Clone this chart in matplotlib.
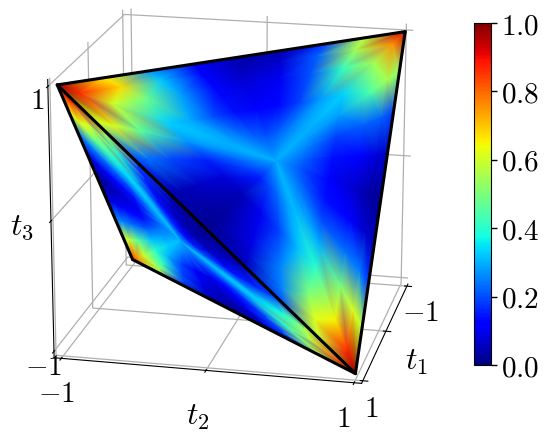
import numpy as np
import matplotlib
matplotlib.use("Agg")
import matplotlib.pyplot as plt
from matplotlib.tri import Triangulation
from mpl_toolkits.mplot3d import proj3d

plt.rcParams['mathtext.fontset'] = 'cm'
plt.rcParams['font.family'] = 'serif'
plt.rcParams['font.serif'] = ['cmr10', 'DejaVu Serif']
plt.rcParams['axes.formatter.use_mathtext'] = True

# tetrahedron corners (t1, t2, t3)
corner_a = [1, -1, 1]
corner_b = [-1, 1, 1]
corner_c = [1, 1, -1]
corner_d = [-1, -1, -1]

# values read on the faces: one row per ring around the face centre, outer ring last,
# 24 spokes per ring, first corner at spoke 0, second at 8, third at 16
ring_fracs = [0.25, 0.5, 0.75, 0.9, 1.0]

center_abc = 0.30
face_abc = [
    [.30, .28, .25, .22, .20, .22, .25, .28, .30, .28, .25, .22, .20, .22, .25, .28, .31, .28, .23, .19, .15, .19, .23, .28],
    [.33, .29, .20, .14, .11, .13, .19, .28, .33, .28, .19, .14, .11, .14, .20, .30, .40, .31, .19, .10, .05, .08, .16, .27],
    [.60, .48, .28, .13, .08, .10, .21, .42, .55, .44, .22, .11, .07, .11, .24, .50, .65, .50, .25, .09, .03, .06, .20, .46],
    [.87, .68, .32, .12, .05, .07, .22, .55, .76, .55, .22, .08, .03, .07, .25, .62, .88, .62, .25, .07, .02, .05, .24, .62],
    [.98, .66, .27, .10, .04, .05, .18, .58, .92, .52, .18, .06, .02, .05, .18, .58, .98, .58, .20, .05, .02, .04, .20, .60],
]
center_adc = 0.31
face_adc = [
    [.32, .30, .27, .25, .23, .25, .27, .30, .33, .30, .26, .23, .20, .22, .25, .29, .32, .27, .21, .16, .13, .16, .21, .27],
    [.37, .31, .21, .14, .10, .14, .23, .32, .40, .30, .19, .12, .09, .12, .19, .29, .35, .25, .14, .07, .04, .07, .14, .26],
    [.62, .46, .24, .11, .06, .11, .24, .46, .60, .42, .19, .09, .05, .09, .19, .40, .58, .38, .16, .06, .02, .05, .15, .38],
    [.87, .62, .26, .09, .03, .09, .26, .58, .76, .54, .20, .06, .03, .06, .20, .54, .84, .55, .20, .05, .02, .04, .18, .55],
    [.98, .66, .24, .08, .03, .07, .25, .62, .85, .55, .16, .05, .02, .05, .16, .55, .98, .55, .18, .05, .02, .04, .18, .58],
]
cbar_ticks = [0.0, 0.2, 0.4, 0.6, 0.8, 1.0]
axis_ticks = [-1, 0, 1]
axis_ticklabels = ['$-1$', '', '$1$']

fig = plt.figure(figsize=(5.5, 4.39), dpi=100)
ax = fig.add_axes([-0.045, 0.0, 0.93, 1.112], projection='3d')
ax.view_init(elev=18, azim=12.5)
ax.set_box_aspect((1, 1.08, 1))
ax.set_xlim(-1.05, 1.05)
ax.set_ylim(-1.05, 1.05)
ax.set_zlim(-1.05, 1.05)
ax.set_xticks(axis_ticks)
ax.set_yticks(axis_ticks)
ax.set_zticks(axis_ticks)
ax.set_xticklabels(axis_ticklabels, fontsize=21, va='top')
ax.set_yticklabels(axis_ticklabels, fontsize=21, va='top')
ax.set_zticklabels(axis_ticklabels, fontsize=21, va='top')
ax.tick_params(axis='x', pad=1)
ax.tick_params(axis='y', pad=3)
ax.tick_params(axis='z', pad=-3)
ax.get_xticklabels()[2].set_ha('right')
ax.get_yticklabels()[2].set_ha('right')
ax.xaxis.set_rotate_label(False)
ax.yaxis.set_rotate_label(False)
ax.zaxis.set_rotate_label(False)
ax.set_xlabel('$t_1$', fontsize=23, labelpad=-2, rotation=0)
ax.set_ylabel('$t_2$', fontsize=23, labelpad=1, rotation=0)
ax.set_zlabel('$t_3$', fontsize=23, labelpad=-7.5, rotation=0)
for a in [ax.xaxis, ax.yaxis, ax.zaxis]:
    a.set_pane_color((1, 1, 1, 1))
    a.pane.set_edgecolor((1, 1, 1, 0))
    a.line.set_color('black')
    a._axinfo['grid']['color'] = '#b0b0b0'
    a._axinfo['grid']['linewidth'] = 0.9

fig.canvas.draw()


def to_pixels(points):
    pts = np.array(points, dtype=float)
    px, py, _ = proj3d.proj_transform(pts[:, 0], pts[:, 1], pts[:, 2], ax.get_proj())
    return ax.transData.transform(np.column_stack([px, py]))


def face_mesh(p0, p1, p2, center_val, rows):
    # fan of spokes from the face centre, so the ridges run along mesh lines
    corners = [np.array(p0, float), np.array(p1, float), np.array(p2, float)]
    mid = sum(corners) / 3
    n = len(rows[0])
    side = n // 3
    nodes = [mid]
    vals = [center_val]
    for f, row in zip(ring_fracs, rows):
        for k, v in enumerate(row):
            i = k // side
            w = (k % side) / side
            edge = corners[i] * (1 - w) + corners[(i + 1) % 3] * w
            nodes.append(mid + f * (edge - mid))
            vals.append(v)
    tris = []
    for k in range(n):
        tris.append([0, 1 + k, 1 + (k + 1) % n])
    for r in range(len(rows) - 1):
        for k in range(n):
            k2 = (k + 1) % n
            a0, a1 = 1 + r * n + k, 1 + r * n + k2
            b0, b1 = 1 + (r + 1) * n + k, 1 + (r + 1) * n + k2
            tris.append([a0, b0, b1])
            tris.append([a0, b1, a1])
    return to_pixels(nodes), np.array(tris), np.array(vals)


over = fig.add_axes([0, 0, 1, 1])
over.set_xlim(0, 550)
over.set_ylim(0, 439)
over.axis('off')
over.patch.set_alpha(0)

mesh = None
for p0, p1, p2, c, rows in [(corner_a, corner_d, corner_c, center_adc, face_adc),
                            (corner_a, corner_b, corner_c, center_abc, face_abc)]:
    xy, tris, vals = face_mesh(p0, p1, p2, c, rows)
    mesh = over.tripcolor(Triangulation(xy[:, 0], xy[:, 1], tris), vals, shading='gouraud',
                          cmap='jet', vmin=0, vmax=1)

for e0, e1 in [(corner_a, corner_d), (corner_d, corner_c), (corner_a, corner_b),
               (corner_b, corner_c), (corner_a, corner_c)]:
    xy = to_pixels([e0, e1])
    over.plot(xy[:, 0], xy[:, 1], color='black', lw=2.2, solid_capstyle='round')

cax = fig.add_axes([474 / 550, 1 - 366 / 439, 17 / 550, 342 / 439])
cb = fig.colorbar(mesh, cax=cax, ticks=cbar_ticks)
cb.ax.set_yticklabels(['$%.1f$' % t for t in cbar_ticks], fontsize=21)
cb.ax.tick_params(length=4, width=1, pad=3)

fig.savefig('out.png', dpi=100)
